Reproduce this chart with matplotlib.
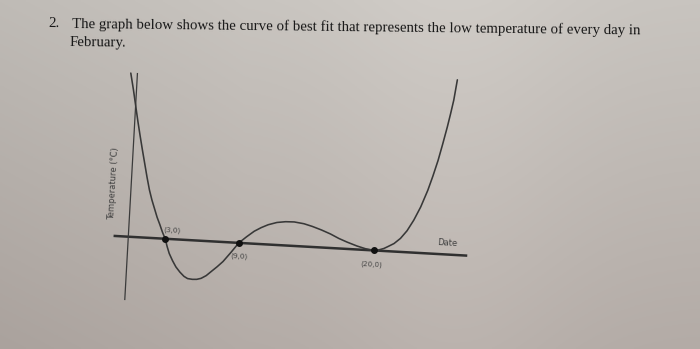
import numpy as np
import matplotlib
matplotlib.use("Agg")
import matplotlib.pyplot as plt
from matplotlib.transforms import Affine2D

# ---------------- data ----------------
question_number = "2."
question_line1 = ("The graph below shows the curve of best fit that represents "
                  "the low temperature of every day in")
question_line2 = "February."

curve_x = [-0.54, -0.25, 0.0, 0.25, 0.5, 0.75, 1.0, 1.25, 1.5, 1.75, 2.0,
           2.25, 2.5, 2.75, 3.0, 3.2, 3.4, 3.7, 4.0, 4.35, 4.7, 5.0, 5.4,
           5.75, 6.1, 6.5, 6.9, 7.35, 7.8, 8.4, 9.0, 9.6, 10.2, 10.75, 11.3,
           12.0, 12.7, 13.4, 14.2, 14.9, 15.65, 16.4, 17.1, 17.8, 18.6, 19.3,
           20.0, 20.25, 20.5, 20.8, 21.1, 21.6, 22.1, 22.6, 23.1, 23.6, 24.1,
           24.45, 24.8, 25.1, 25.4, 25.6, 25.8, 26.0]
curve_y = [32.7, 29.4, 26.3, 23.2, 20.3, 17.5, 14.8, 12.1, 9.6, 7.6, 5.9,
           4.2, 2.8, 1.3, 0.0, -1.55, -2.9, -4.3, -5.5, -6.5, -7.3, -7.7, -7.8,
           -7.75, -7.5, -6.9, -6.0, -5.0, -3.9, -2.0, 0.0, 1.3, 2.5, 3.3, 3.95,
           4.5, 4.75, 4.8, 4.55, 4.1, 3.5, 2.8, 2.0, 1.35, 0.7, 0.25,
           0.0, 0.05, 0.25, 0.5, 0.9, 1.6, 2.7, 4.3, 6.5, 9.2, 12.6,
           15.5, 18.7, 22.0, 25.5, 28.1, 30.9, 35.0]

point_x = [3, 9, 20]
point_y = [0, 0, 0]
point_labels = ["(3,0)", "(9,0)", "(20,0)"]

x_axis_label = "Date"
y_axis_label = "Temperature (°C)"

# ---------------- figure ----------------
W, H = 700, 349
fig = plt.figure(figsize=(W / 100, H / 100), dpi=100)

# paper background (photo lighting)
bg = fig.add_axes([0, 0, 1, 1])
gx = np.linspace(0, 1, 300)[None, :, None]
gy = np.linspace(0, 1, 150)[:, None, None]
top = np.array([200, 196, 191]) / 255
bottom = np.array([179, 171, 166]) / 255
img = (1 - gy) * top + gy * bottom
shade = (-0.035 * np.clip(1 - gx / 0.35, 0, 1)
         + 0.03 * np.exp(-((gx - 0.65) / 0.18) ** 2))
img = np.clip(img + shade, 0, 1)
bg.imshow(img, extent=[0, 1, 0, 1], aspect="auto", origin="upper")
bg.set_axis_off()

ax = fig.add_axes([0, 0, 1, 1])
ax.set_axis_off()
ax.patch.set_visible(False)
ax.set_autoscale_on(False)

ORIGIN = (128.3, H - 236.7)   # pixel position of the axes' crossing
XS, YS = 12.3, 5.0            # pixels per unit
TILT = -3.2                   # photo tilt (degrees)
ax.set_xlim(-ORIGIN[0] / XS, (W - ORIGIN[0]) / XS)
ax.set_ylim(-ORIGIN[1] / YS, (H - ORIGIN[1]) / YS)
rot = ax.transData + Affine2D().rotate_deg_around(ORIGIN[0], ORIGIN[1], TILT)

# axes
ax.plot([-1.2, 27.6], [0, 0], color="#303030", lw=1.8, transform=rot,
        solid_capstyle="butt")
ax.plot([0, 0], [-12.7, 32.8], color="#3a3a3a", lw=0.9, transform=rot,
        solid_capstyle="butt")
# curve
ax.plot(curve_x, curve_y, color="#383838", lw=1.15, transform=rot,
        solid_joinstyle="round", solid_capstyle="round")
# points
ax.plot(point_x, point_y, "o", color="#111111", ms=4, transform=rot)

lab_off = [(0.5, 1.8), (0.1, -2.6), (-0.15, -2.9)]
for px, py, t, (dx, dy) in zip(point_x, point_y, point_labels, lab_off):
    ax.text(px + dx, py + dy, t, transform=rot, rotation=TILT,
            rotation_mode="anchor", ha="center", va="center",
            fontsize=5.2, color="#444444", family="DejaVu Sans")

ax.text(25.9, 2.24, x_axis_label, transform=rot, rotation=TILT,
        rotation_mode="anchor", ha="center", va="center",
        fontsize=6, color="#404040", family="DejaVu Sans")
ax.text(-1.46, 10.5, y_axis_label, transform=rot, rotation=90 + TILT,
        rotation_mode="anchor", ha="center", va="center",
        fontsize=6, color="#404040", family="DejaVu Sans")

# question text
tcol = "#181818"
fs = 10.7
fig.text(48.7 / W, 1 - 23.5 / H, question_number, ha="left", va="center",
         rotation=-0.65, rotation_mode="anchor", fontsize=fs,
         family="Liberation Serif", color=tcol)
fig.text(71.6 / W, 1 - 23.8 / H, question_line1, ha="left", va="center",
         rotation=-0.65, rotation_mode="anchor", fontsize=fs,
         family="Liberation Serif", color=tcol)
fig.text(69.6 / W, 1 - 43.0 / H, question_line2, ha="left", va="center",
         rotation=-0.65, rotation_mode="anchor", fontsize=fs,
         family="Liberation Serif", color=tcol)

fig.savefig("out.png", dpi=100)
